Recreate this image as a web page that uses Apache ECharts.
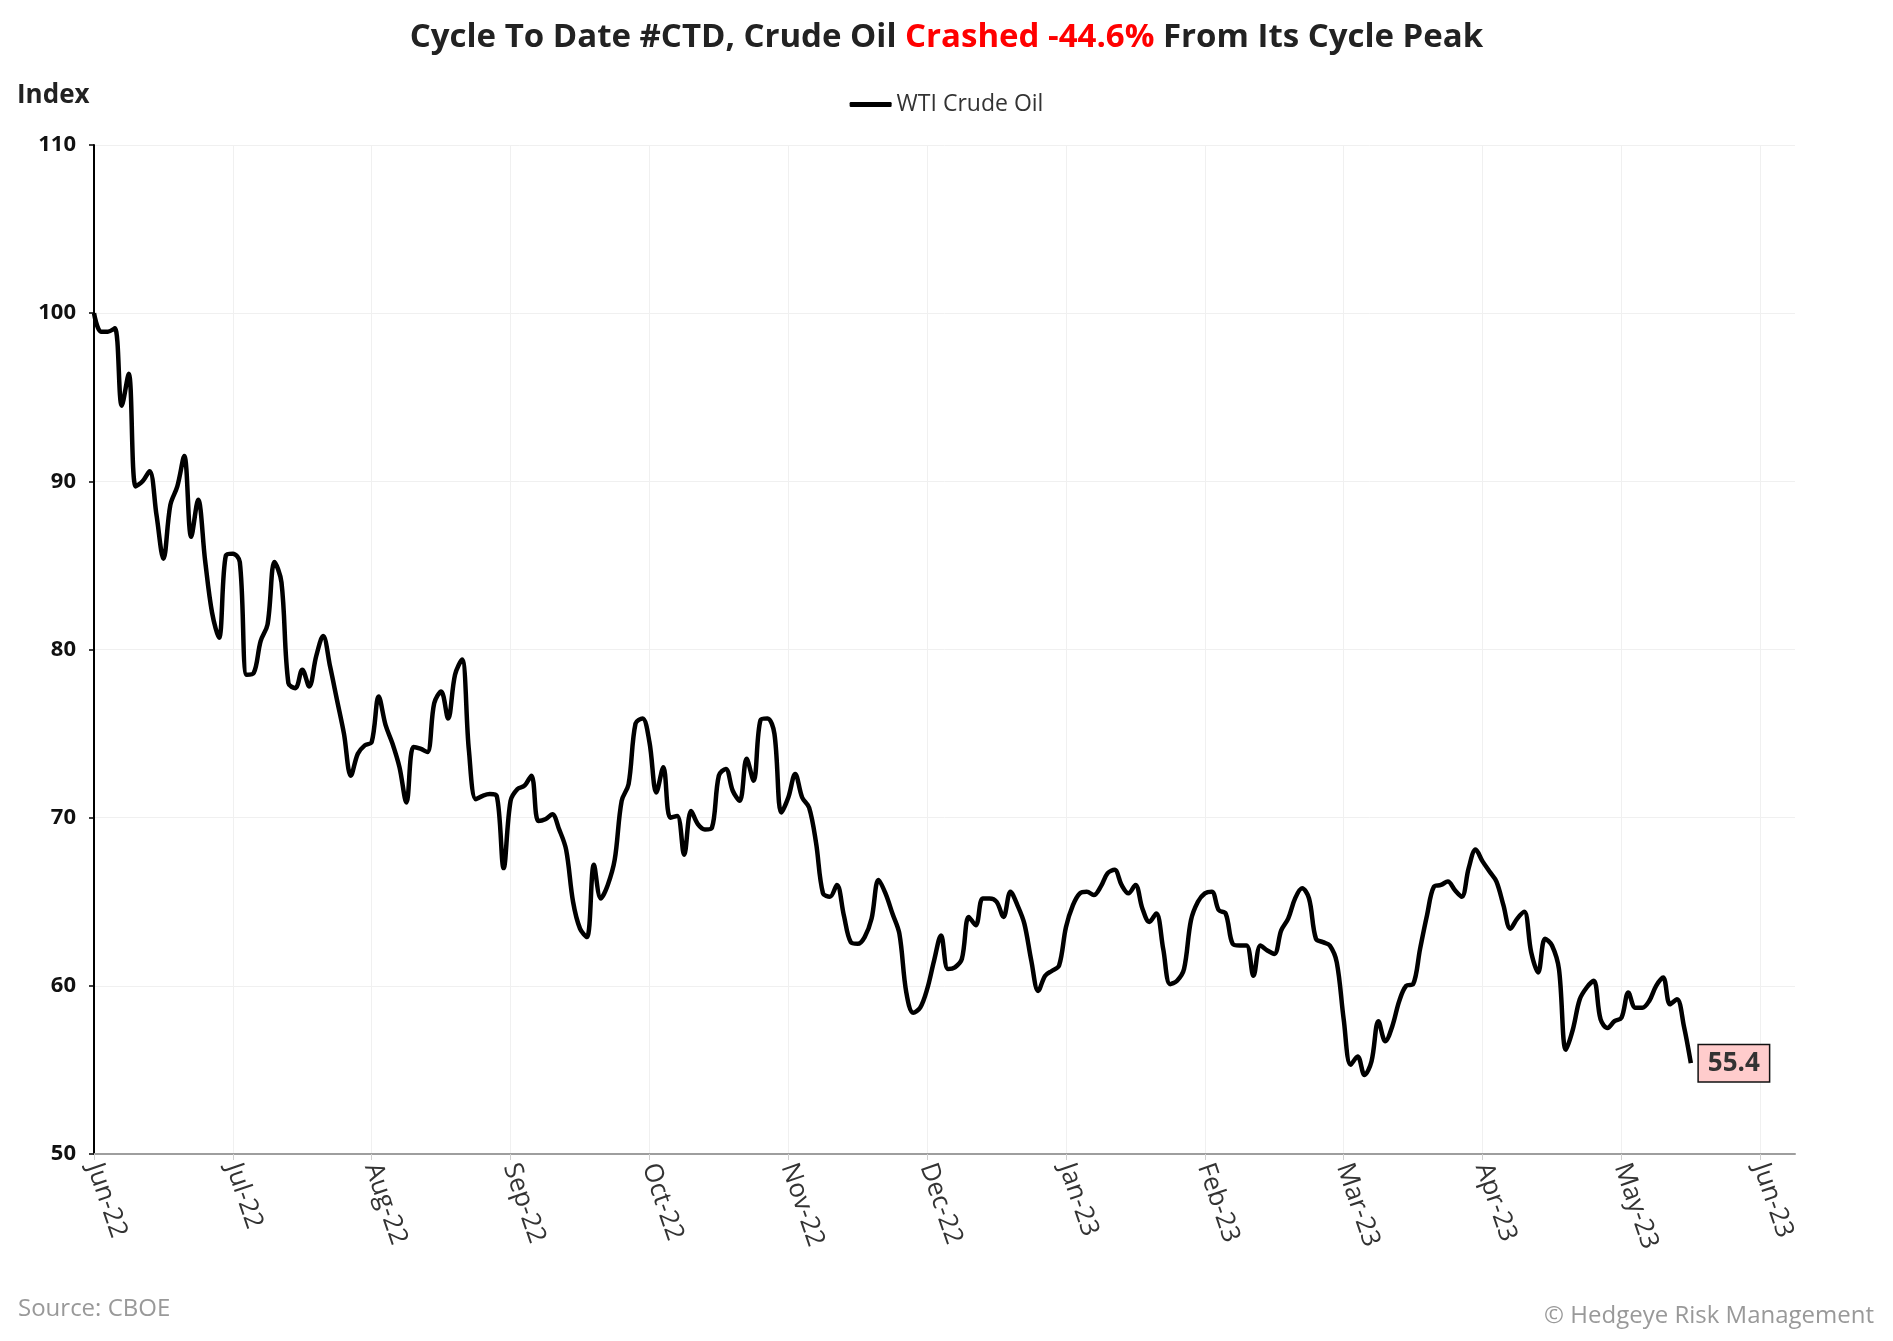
<!DOCTYPE html>
<html>
<head>
<meta charset="utf-8">
<title>WTI Crude Oil - Cycle To Date</title>
<script src="https://cdn.jsdelivr.net/npm/echarts@6/dist/echarts.min.js"></script>
<style>
  html, body { margin: 0; padding: 0; background: #fff; }
  #chart { width: 1893px; height: 1341px; }
</style>
</head>
<body>
<div id="chart"></div>
<script>
// month tick labels, one every 20 slots on the x axis
const monthLabels = ['Jun-22', 'Jul-22', 'Aug-22', 'Sep-22', 'Oct-22', 'Nov-22', 'Dec-22',
  'Jan-23', 'Feb-23', 'Mar-23', 'Apr-23', 'May-23', 'Jun-23']
const slotsPerMonth = 20
const slotCount = 246

// WTI crude oil, indexed to 100 at the cycle peak
const wtiIndex = [
  100.0, 98.9, 98.9, 99.1, 94.5, 96.4, 89.7, 90.0, 90.6, 88.0,
  85.4, 88.6, 89.7, 91.5, 86.7, 88.9, 85.3, 82.2, 80.7, 85.6,
  85.7, 85.2, 78.5, 78.6, 80.5, 81.5, 85.2, 84.0, 78.0, 77.7,
  78.8, 77.8, 79.6, 80.8, 79.0, 77.0, 75.0, 72.5, 73.8, 74.3,
  74.5, 77.2, 75.5, 74.4, 73.0, 70.9, 74.2, 74.1, 73.9, 76.8,
  77.5, 75.9, 78.5, 79.4, 74.0, 71.1, 71.3, 71.4, 71.3, 67.0,
  71.0, 71.7, 71.9, 72.5, 69.8, 69.9, 70.2, 69.3, 68.1, 65.0,
  63.4, 62.9, 67.2, 65.2, 66.0, 67.5, 71.0, 72.0, 75.6, 75.9,
  74.5, 71.5, 73.0, 70.0, 70.1, 67.8, 70.4, 69.6, 69.3, 69.4,
  72.5, 72.9, 71.6, 71.0, 73.5, 72.2, 75.8, 75.9, 75.0, 70.3,
  71.2, 72.6, 71.2, 70.6, 68.5, 65.5, 65.3, 66.0, 64.2, 62.6,
  62.5, 62.9, 64.0, 66.3, 65.5, 64.3, 63.1, 59.6, 58.4, 58.7,
  59.8, 61.5, 63.0, 61.0, 61.1, 61.6, 64.1, 63.6, 65.2, 65.2,
  65.0, 64.1, 65.6, 64.8, 63.7, 61.5, 59.7, 60.6, 60.9, 61.2,
  63.5, 64.8, 65.5, 65.6, 65.4, 65.9, 66.7, 66.9, 66.0, 65.5,
  66.0, 64.6, 63.8, 64.3, 62.2, 60.1, 60.3, 61.0, 63.9, 65.0,
  65.5, 65.6, 64.5, 64.3, 62.5, 62.4, 62.4, 60.6, 62.4, 62.1,
  61.9, 63.3, 64.0, 65.2, 65.8, 65.2, 62.8, 62.6, 62.4, 61.4,
  58.0, 55.3, 55.8, 54.7, 55.5, 57.9, 56.7, 57.6, 59.1, 60.0,
  60.1, 62.2, 64.2, 65.9, 66.0, 66.2, 65.7, 65.3, 67.0, 68.1,
  67.4, 66.8, 66.2, 64.8, 63.4, 64.0, 64.4, 62.0, 60.8, 62.8,
  62.4, 61.0, 56.2, 57.4, 59.2, 59.9, 60.3, 58.0, 57.5, 57.9,
  58.1, 59.6, 58.7, 58.7, 59.1, 60.0, 60.5, 58.9, 59.2, 57.6,
  55.4
]

const FONT = '"Open Sans", sans-serif'
const slots = Array.from({ length: slotCount }, (_, i) => i)

const chart = echarts.init(document.getElementById('chart'))

const option = {
  backgroundColor: '#fff',
  animation: false,
  textStyle: { fontFamily: FONT },
  title: [
    {
      text: '{d|Cycle To Date #CTD, Crude Oil }{r|Crashed -44.6%}{d| From Its Cycle Peak}',
      left: 'center',
      top: 16,
      textStyle: {
        rich: {
          d: { fontSize: 33, fontWeight: 'bold', color: '#222', fontFamily: FONT },
          r: { fontSize: 33, fontWeight: 'bold', color: '#ff0000', fontFamily: FONT }
        }
      }
    },
    {
      text: 'Index',
      left: 12,
      top: 78,
      textStyle: { fontSize: 26, fontWeight: 'bold', color: '#222', fontFamily: FONT }
    },
    {
      text: 'Source: CBOE',
      left: 13,
      top: 1292,
      textStyle: { fontSize: 24, fontWeight: 'normal', color: '#999', fontFamily: FONT }
    },
    {
      text: '© Hedgeye Risk Management',
      right: 14,
      top: 1299,
      textStyle: { fontSize: 24, fontWeight: 'normal', color: '#999', fontFamily: FONT }
    }
  ],
  legend: {
    top: 88,
    left: 'center',
    icon: 'roundRect',
    itemWidth: 42,
    itemHeight: 5,
    textStyle: { fontSize: 23, color: '#333', fontFamily: FONT },
    data: ['WTI Crude Oil']
  },
  grid: {
    left: 94,
    right: 98,
    top: 145,
    bottom: 187,
    containLabel: false,
    outerBoundsMode: 'none'
  },
  xAxis: {
    type: 'category',
    data: slots,
    boundaryGap: false,
    axisLine: { lineStyle: { color: '#9e9e9e', width: 2 } },
    axisTick: { show: true, interval: slotsPerMonth - 1, length: 6, lineStyle: { color: '#cfcfcf' } },
    splitLine: { show: true, interval: slotsPerMonth - 1, lineStyle: { color: '#f0f0f0', width: 1 } },
    axisLabel: {
      interval: slotsPerMonth - 1,
      rotate: -71,
      margin: 10,
      fontSize: 26,
      color: '#333',
      fontFamily: FONT,
      formatter: (value, idx) => monthLabels[Math.round(idx / slotsPerMonth)] || ''
    }
  },
  yAxis: {
    type: 'value',
    min: 50,
    max: 110,
    interval: 10,
    axisLine: { show: true, lineStyle: { color: '#000', width: 2 } },
    axisTick: { show: true, length: 5, lineStyle: { color: '#000', width: 1.5 } },
    splitLine: { show: true, lineStyle: { color: '#f0f0f0', width: 1 } },
    axisLabel: { fontSize: 22, fontWeight: 'bold', color: '#111', margin: 18, fontFamily: FONT }
  },
  series: [
    {
      name: 'WTI Crude Oil',
      type: 'line',
      data: wtiIndex,
      smooth: 0.35,
      showSymbol: false,
      symbol: 'none',
      lineStyle: { color: '#000', width: 4.5 },
      itemStyle: { color: '#000' },
      endLabel: {
        show: true,
        distance: 8,
        formatter: p => p.value.toFixed(1),
        fontSize: 26,
        fontWeight: 'bold',
        color: '#333',
        fontFamily: FONT,
        backgroundColor: '#ffcccc',
        borderColor: '#111',
        borderWidth: 1.5,
        padding: [5, 9]
      }
    }
  ]
}

chart.setOption(option)
</script>
</body>
</html>
